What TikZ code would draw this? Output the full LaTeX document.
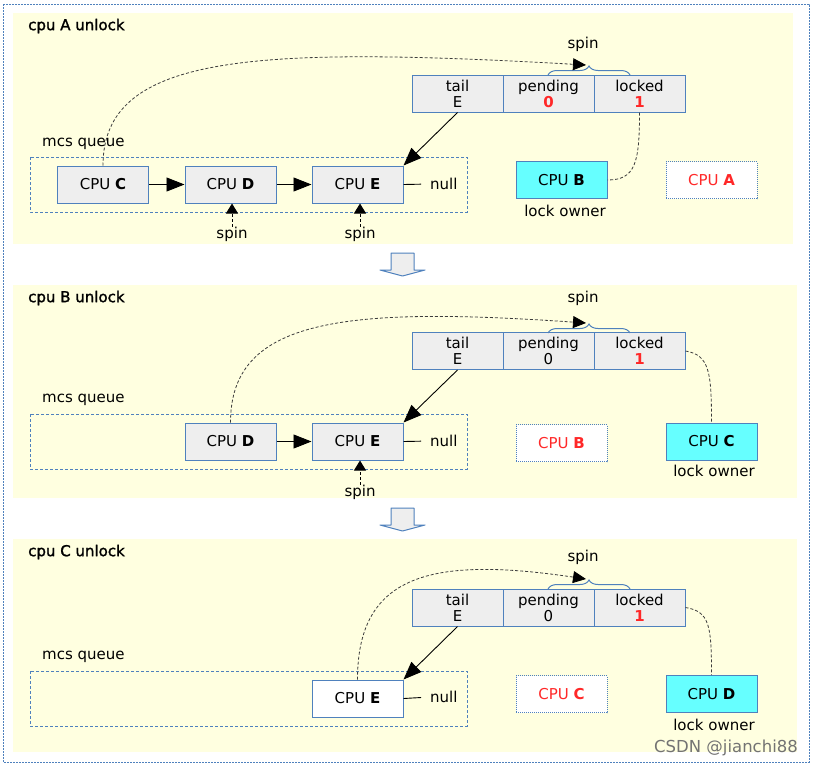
\documentclass[tikz,border=0pt]{standalone}
\usepackage{fontspec}
\setmainfont{DejaVu Sans}
\newfontfamily\titlefont[FakeBold=1.5]{DejaVu Sans}
\usetikzlibrary{arrows.meta,decorations.pathreplacing}
\definecolor{panelbg}{RGB}{255,255,224}
\definecolor{boxblue}{RGB}{79,129,189}
\definecolor{cellgray}{RGB}{238,238,238}
\definecolor{ownercyan}{RGB}{102,255,255}
\definecolor{lockred}{RGB}{255,40,40}
\definecolor{curvegray}{RGB}{60,60,60}
\tikzset{
 cpubox/.style={draw=boxblue, line width=1pt, fill=cellgray, minimum width=91pt, minimum height=37pt, inner sep=0pt, font=\fontsize{15}{16}\selectfont},
 ownerbox/.style={cpubox, fill=ownercyan},
 freebox/.style={cpubox, fill=white, dash pattern=on 1pt off 1pt, text=lockred},
 lastbox/.style={cpubox, fill=white},
 cell/.style={cpubox, align=center},
 lbl/.style={inner sep=0pt, font=\fontsize{15}{16}\selectfont},
 ttl/.style={inner sep=0pt, anchor=west, font=\titlefont\fontsize{15}{16}\selectfont},
 queuebox/.style={draw=boxblue, line width=0.8pt, dash pattern=on 3pt off 2pt},
 link/.style={line width=0.9pt, -{Triangle[length=18pt,width=14pt]}},
 spinarrow/.style={line width=0.9pt, dash pattern=on 3pt off 2pt, -{Triangle[length=10pt,width=12pt]}},
 spincurve/.style={curvegray, line width=0.8pt, dash pattern=on 3pt off 2pt, -{Triangle[length=13pt,width=12pt,color=black]}},
 ownercurve/.style={curvegray, line width=0.8pt, dash pattern=on 3pt off 2pt},
 bracestyle/.style={draw=boxblue, line width=1pt, decorate, decoration={brace, amplitude=9pt}},
 panel/.style={fill=panelbg, draw=none},
 downarrow/.style={draw=boxblue, fill=cellgray, line width=1pt, line join=round},
 nullline/.style={line width=0.9pt, shorten >=9pt},
}
\begin{document}
\begin{tikzpicture}[x=1pt,y=-1pt]
\useasboundingbox (0,0) rectangle (818,769);
\fill[white] (0,0) rectangle (818,769);
\draw[boxblue, line width=0.8pt, dash pattern=on 2pt off 1pt] (3,4) rectangle (809,762);
% panels
\fill[panel] (13,13) rectangle (793,244);
\fill[panel] (13,285) rectangle (797,498);
\fill[panel] (13,539) rectangle (797,752);
% down arrows
\draw[downarrow] (391,253) -- (414,253) -- (414,270) -- (425,270) -- (402.5,276) -- (380,270) -- (391,270) -- cycle;
\draw[downarrow] (391,508) -- (414,508) -- (414,525) -- (425,525) -- (402.5,531) -- (380,525) -- (391,525) -- cycle;

%%%%% Panel 1
\node[ttl] (t1) at (28,26) {cpu A unlock};
\node[cell] (tail1) at (457.5,93.5) {tail\\E};
\node[cell] (pend1) at (548.5,93.5) {pending\\\textcolor{lockred}{\textbf{0}}};
\node[cell] (lock1) at (639.5,93.5) {locked\\\textcolor{lockred}{\textbf{1}}};
\draw[bracestyle] (548,75) -- (630,75);
\coordinate (bt1) at (586,65);
\node[lbl] (sp1) at (583,44) {spin};
\draw[queuebox] (30,157) rectangle (467,212);
\node[lbl, anchor=west] (q1) at (42,144) {mcs queue};
\node[cpubox] (c1) at (103,184.5) {CPU \textbf{C}};
\node[cpubox] (d1) at (230.5,184.5) {CPU \textbf{D}};
\node[cpubox] (e1) at (357.5,184.5) {CPU \textbf{E}};
\node[lbl, anchor=west] (n1) at (430,184) {null};
\draw[link] (c1) -- (d1);
\draw[link] (d1) -- (e1);
\draw[nullline] (e1.east) -- (n1.west);
\node[lbl] (sd1) at (232,234) {spin};
\node[lbl] (se1) at (360,234) {spin};
\draw[spinarrow] (sd1.north) -- (sd1.north |- d1.south);
\draw[spinarrow] (se1.north) -- (se1.north |- e1.south);
\node[ownerbox] (b1) at (561.5,180) {CPU \textbf{B}};
\node[lbl] (o1) at (565,211) {lock owner};
\node[freebox] (a1) at (711.5,180) {CPU \textbf{A}};
\draw[ownercurve] (lock1.south) .. controls +(0,50) and +(28,0) .. (b1.east);
\draw[link] (tail1.south) -- (e1.north east);
\draw[spincurve] (c1.north) .. controls +(0,-111) and +(-335,-19) .. (bt1);

%%%%% Panel 2
\node[ttl] (t2) at (28,298) {cpu B unlock};
\node[cell] (tail2) at (457.5,351) {tail\\E};
\node[cell] (pend2) at (548.5,351) {pending\\0};
\node[cell] (lock2) at (639.5,351) {locked\\\textcolor{lockred}{\textbf{1}}};
\draw[bracestyle] (548,333) -- (630,333);
\coordinate (bt2) at (586,323);
\node[lbl] (sp2) at (583,298) {spin};
\draw[queuebox] (30,414) rectangle (467,469);
\node[lbl, anchor=west] (q2) at (42,400) {mcs queue};
\node[cpubox] (d2) at (230.5,441.5) {CPU \textbf{D}};
\node[cpubox] (e2) at (357.5,441.5) {CPU \textbf{E}};
\node[lbl, anchor=west] (n2) at (430,441) {null};
\draw[link] (d2) -- (e2);
\draw[nullline] (e2.east) -- (n2.west);
\node[lbl] (se2) at (360,492) {spin};
\draw[spinarrow] (se2.north) -- (se2.north |- e2.south);
\node[freebox] (b2) at (561.5,443) {CPU \textbf{B}};
\node[ownerbox] (cc2) at (711.5,441.5) {CPU \textbf{C}};
\node[lbl] (o2) at (714,471) {lock owner};
\draw[ownercurve] (lock2.east) .. controls +(24,4) and +(0,-50) .. (cc2.north);
\draw[link] (tail2.south) -- (e2.north east);
\draw[spincurve] (d2.north) .. controls +(0,-103) and +(-245,-17) .. (bt2);

%%%%% Panel 3
\node[ttl] (t3) at (28,552) {cpu C unlock};
\node[cell] (tail3) at (457.5,607.5) {tail\\E};
\node[cell] (pend3) at (548.5,607.5) {pending\\0};
\node[cell] (lock3) at (639.5,607.5) {locked\\\textcolor{lockred}{\textbf{1}}};
\draw[bracestyle] (548,589) -- (630,589);
\coordinate (bt3) at (586,579);
\node[lbl] (sp3) at (583,557) {spin};
\draw[queuebox] (30,671) rectangle (467,726);
\node[lbl, anchor=west] (q3) at (42,657) {mcs queue};
\node[lastbox] (e3) at (357.5,698.5) {CPU \textbf{E}};
\node[lbl, anchor=west] (n3) at (430,697) {null};
\draw[nullline] (e3.east) -- (n3.west);
\node[freebox] (cc3) at (561.5,694) {CPU \textbf{C}};
\node[ownerbox] (d3) at (711.5,694) {CPU \textbf{D}};
\node[lbl] (o3) at (714,725) {lock owner};
\draw[ownercurve] (lock3.east) .. controls +(24,4) and +(0,-50) .. (d3.north);
\draw[link] (tail3.south) -- (e3.north east);
\draw[spincurve] (e3.north) .. controls +(0,-105) and +(-155,-23) .. (bt3);

% watermark
\node[inner sep=0pt, text=black!55, font=\fontsize{16.5}{18}\selectfont] (wm) at (726,748) {CSDN @jianchi88};
\end{tikzpicture}
\end{document}
